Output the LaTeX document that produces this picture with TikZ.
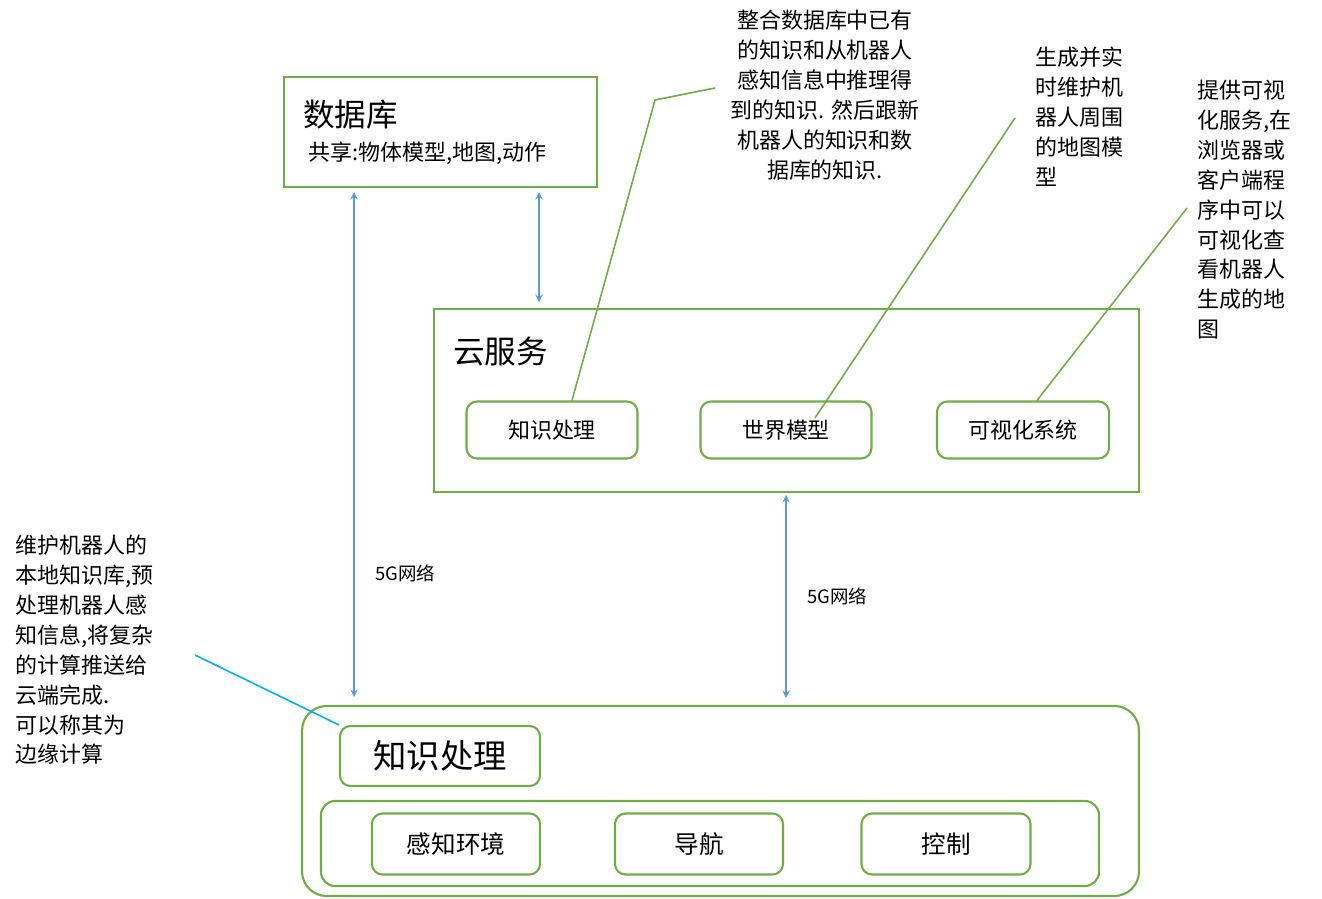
\documentclass[tikz,border=0pt]{standalone}
\usepackage{fontspec}
\setmainfont{Noto Sans CJK SC}
\usetikzlibrary{positioning}
\definecolor{boxgreen}{RGB}{112,173,71}
\definecolor{arrowblue}{RGB}{91,155,213}
\definecolor{leadblue}{RGB}{0,176,240}
\tikzset{
  frame/.style={draw=boxgreen, line width=1.2pt},
  module/.style={draw=boxgreen, line width=1.2pt, rounded corners=6pt, font=\fontsize{12.5}{15}\selectfont},
  note/.style={align=left, anchor=north west, inner sep=0pt, font=\fontsize{12.5}{17}\selectfont},
  link/.style={<->, draw=arrowblue, line width=0.9pt, >=stealth},
  lead/.style={draw=boxgreen, line width=0.9pt}
}
\begin{document}
\begin{tikzpicture}[x=0.02cm, y=-0.02cm]
  \useasboundingbox (0,0) rectangle (1322,899);
  % Database
  \draw[frame] (284,77) rectangle (597,187);
  \node[anchor=west, font=\fontsize{18}{20}\selectfont] (db) at (297,115) {数据库};
  \node[anchor=west, font=\fontsize{12.5}{15}\selectfont] (dbsub) at (302,153) {共享:物体模型,地图,动作};
  % Cloud service
  \draw[frame] (434,309) rectangle (1139,492);
  \node[anchor=west, font=\fontsize{18}{20}\selectfont] (cloud) at (447,352) {云服务};
  \node[module, minimum width=171*0.02cm, minimum height=57*0.02cm] (know) at (552,430) {知识处理};
  \node[module, minimum width=171*0.02cm, minimum height=57*0.02cm] (world) at (786,430) {世界模型};
  \node[module, minimum width=172*0.02cm, minimum height=57*0.02cm] (vis) at (1023,430) {可视化系统};
  % Edge side
  \draw[frame, rounded corners=14pt] (302,706) rectangle (1139,896);
  \draw[frame, rounded corners=8pt] (321,801) rectangle (1099,886);
  \node[module, minimum width=200*0.02cm, minimum height=60*0.02cm, font=\fontsize{19}{22}\selectfont] (edge) at (440,756) {知识处理};
  \node[module, minimum width=168*0.02cm, minimum height=61*0.02cm, font=\fontsize{14}{16}\selectfont] (sense) at (456,844) {感知环境};
  \node[module, minimum width=168*0.02cm, minimum height=61*0.02cm, font=\fontsize{14}{16}\selectfont] (nav) at (699,844) {导航};
  \node[module, minimum width=169*0.02cm, minimum height=61*0.02cm, font=\fontsize{14}{16}\selectfont] (ctrl) at (946,844) {控制};
  % Links
  \coordinate (a1) at (354,192); \coordinate (a2) at (354,697);
  \coordinate (b1) at (539,192); \coordinate (b2) at (539,302);
  \coordinate (c1) at (786,495); \coordinate (c2) at (786,698);
  \draw[link] (a1) -- (a2);
  \draw[link] (b1) -- (b2);
  \draw[link] (c1) -- (c2);
  \node[font=\fontsize{10.5}{12}\selectfont] (g1) at (405,573) {5G网络};
  \node[font=\fontsize{10.5}{12}\selectfont] (g2) at (837,596) {5G网络};
  % Notes
  \node[align=center, anchor=north, inner sep=0pt, font=\fontsize{12.5}{17}\selectfont] (n1) at (825,10)
    {整合数据库中已有\\的知识和从机器人\\感知信息中推理得\\到的知识. 然后跟新\\机器人的知识和数\\据库的知识.};
  \node[note] (n2) at (1035,47) {生成并实\\时维护机\\器人周围\\的地图模\\型};
  \node[note] (n3) at (1197,80) {提供可视\\化服务,在\\浏览器或\\客户端程\\序中可以\\可视化查\\看机器人\\生成的地\\图};
  \node[note] (n4) at (15,535) {维护机器人的\\本地知识库,预\\处理机器人感\\知信息,将复杂\\的计算推送给\\云端完成.\\可以称其为\\边缘计算};
  \coordinate (k1) at (655,100); \coordinate (k0) at (715,88);
  \draw[lead] (know.north) ++(20,0) coordinate (kt) (kt) -- (k1) -- (k0);
  \coordinate (w0) at (1015,118);
  \draw[lead] (815,418) coordinate (wt) (wt) -- (w0);
  \coordinate (v0) at (1187,208);
  \draw[lead] (vis.north) ++(14,0) coordinate (vt) (vt) -- (v0);
  \coordinate (e0) at (195,655);
  \draw[draw=leadblue, line width=0.9pt] (e0) -- (edge.north west);
\end{tikzpicture}
\end{document}
